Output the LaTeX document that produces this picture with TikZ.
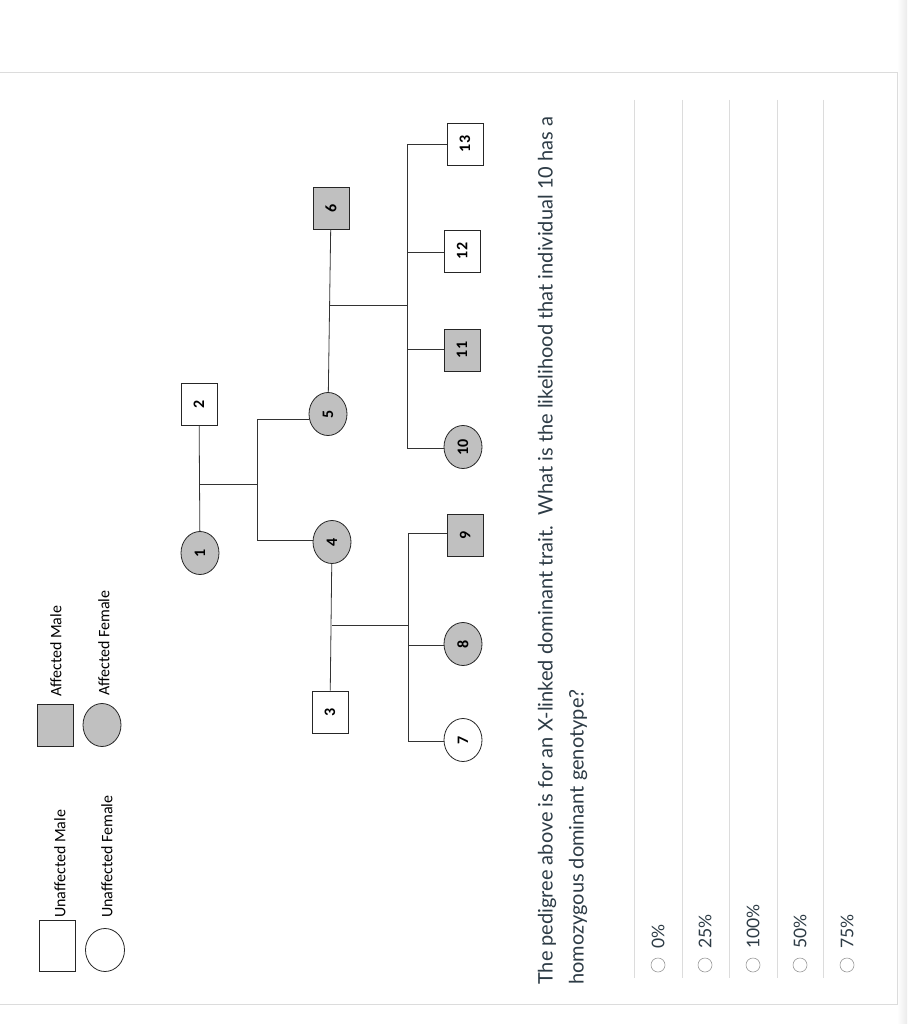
\documentclass[tikz,border=0pt]{standalone}
\usepackage{fontspec}
\setmainfont{Lato}
\newfontfamily\calfont{Carlito}
\usetikzlibrary{shapes.geometric}
\definecolor{txt}{HTML}{2D3B45}
\definecolor{aff}{HTML}{C0C0C0}
\definecolor{rulec}{HTML}{DCDCDC}
\tikzset{
  male/.style={draw=black!85,line width=0.8pt,minimum width=36pt,minimum height=42pt,inner sep=0pt,font=\calfont\bfseries\fontsize{16}{16}\selectfont},
  female/.style={draw=black!85,line width=0.8pt,ellipse,minimum width=38pt,minimum height=43pt,inner sep=0pt,font=\calfont\bfseries\fontsize{16}{16}\selectfont},
  affd/.style={fill=aff},
  link/.style={draw=black!80,line width=0.8pt},
  leg/.style={rotate=90,anchor=west,font=\calfont\fontsize{16}{16}\selectfont,inner sep=0pt},
  qtext/.style={rotate=90,anchor=west,font=\fontsize{20}{20}\selectfont,text=txt,inner sep=0pt},
  opt/.style={rotate=90,anchor=west,font=\fontsize{17.5}{17.5}\selectfont,text=txt,inner sep=0pt},
  ocirc/.style={circle,draw=gray!80,line width=0.6pt,minimum size=14pt,inner sep=0pt}
}
\begin{document}
\begin{tikzpicture}[x=1pt,y=-1pt]
\useasboundingbox (0,0) rectangle (907,1024);
\fill[white] (0,0) rectangle (907,1024);
\shade[left color=white,right color=black!8] (897,0) rectangle (907,1024);
\draw[rulec,line width=1pt] (0,73) -- (897,73) -- (897,1004) -- (0,1004);
\foreach \x in {634,682,729,777,823} \draw[rulec,line width=0.8pt] (\x,100) -- (\x,978);

% legend
\node[male,minimum height=51pt] (lum) at (57,946) {};
\node[female,minimum width=39pt,minimum height=43pt] (luf) at (105,950) {};
\node[male,affd] (lam) at (55,725) {};
\node[female,affd] (laf) at (102,725) {};
\node[leg] (tum) at (60,918) {Unaffected Male};
\node[leg] (tuf) at (107,918) {Unaffected Female};
\node[leg] (tam) at (56,697) {Affected Male};
\node[leg] (taf) at (104,696) {Affected Female};

% pedigree
\node[female,affd] (n1) at (200,553) {\rotatebox{90}{1}};
\node[male] (n2) at (199,404) {\rotatebox{90}{2}};
\node[male] (n3) at (330,712) {\rotatebox{90}{3}};
\node[female,affd] (n4) at (332,542) {\rotatebox{90}{4}};
\node[female,affd] (n5) at (328,414) {\rotatebox{90}{5}};
\node[male,affd] (n6) at (331,208) {\rotatebox{90}{6}};
\node[female] (n7) at (463,740) {\rotatebox{90}{7}};
\node[female,affd] (n8) at (463,644) {\rotatebox{90}{8}};
\node[male,affd] (n9) at (465,535) {\rotatebox{90}{9}};
\node[female,affd] (n10) at (463,447) {\rotatebox{90}{10}};
\node[male,affd] (n11) at (462,350) {\rotatebox{90}{11}};
\node[male] (n12) at (462,251) {\rotatebox{90}{12}};
\node[male] (n13) at (465,144) {\rotatebox{90}{13}};

\coordinate (m12) at (200,484);
\coordinate (s12) at (257,484);
\draw[link] (n1) -- (n2);
\draw[link] (m12) -- (s12);
\draw[link] (n4.west |- 0,540) -- (257,540) -- (257,419) -- (n5.west |- 0,419);
\draw[link] (n4) -- (n3);
\coordinate (m34) at (332,625);
\draw[link] (m34) -- (408,625);
\draw[link] (n9.west |- 0,533) -- (408,533) -- (408,741) -- (n7.west |- 0,741);
\draw[link] (408,645) -- (n8.west |- 0,645);
\draw[link] (n5) -- (n6);
\coordinate (m56) at (329,305);
\draw[link] (m56) -- (407,305);
\draw[link] (n13.west |- 0,144) -- (407,144) -- (407,448) -- (n10.west |- 0,448);
\draw[link] (407,252) -- (n12.west |- 0,252);
\draw[link] (407,349) -- (n11.west |- 0,349);

\node[qtext] (q1) at (547,985) {The pedigree above is for an X-linked dominant trait.\ \ What is the likelihood that individual 10 has a};
\node[qtext] (q2) at (578,985) {homozygous dominant genotype?};

\foreach \x/\t [count=\i] in {658/0\%,705/25\%,753/100\%,800/50\%,847/75\%}{
  \node[ocirc] (oc\i) at (\x,965) {};
  \node[opt] (ot\i) at (\x,949) {\t};
}
\end{tikzpicture}
\end{document}
